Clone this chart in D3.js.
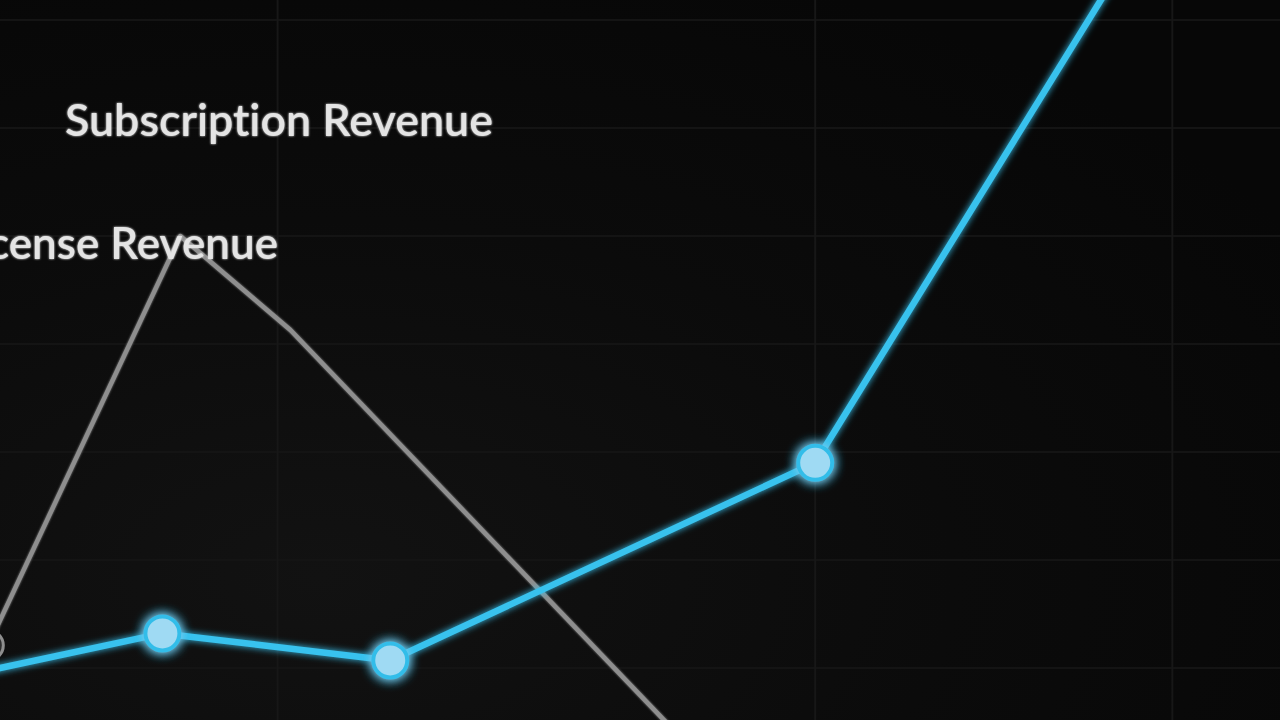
<!DOCTYPE html>
<html>
<head>
<meta charset="utf-8">
<script src="https://cdn.jsdelivr.net/npm/d3@7"></script>
<style>
html,body{margin:0;padding:0;background:#0b0b0b;overflow:hidden;}
svg{display:block;}
text{font-variant-ligatures:none;}
</style>
</head>
<body>
<svg id="chart" width="1280" height="720"></svg>
<script>
// ---- data (x in periods, y in revenue units) ----
const subscriptionX = [0.23, 2.05, 3.83, 7.15, 9.77];
const subscriptionY = [0.86, 1.32, 1.07, 2.90, 7.93];
const subscriptionMarked = [false, true, true, true, false];
const licenseX = [0.69, 2.19, 3.05, 6.25];
const licenseY = [1.21, 5.00, 4.13, 0.17];
const gridX = [2.95, 7.15, 9.94];
const gridY = [1, 2, 3, 4, 5, 6, 7];
const seriesLabels = ["Subscription Revenue", "License Revenue"];

const W = 1280, H = 720;
const svg = d3.select("#chart");
const x = d3.scaleLinear().domain([0, 10]).range([-100, 1180]);
const y = d3.scaleLinear().domain([0, 8]).range([776, -88]);

const defs = svg.append("defs");
const bg = defs.append("radialGradient").attr("id","bg").attr("cx","25%").attr("cy","80%").attr("r","90%");
bg.append("stop").attr("offset","0%").attr("stop-color","#121212");
bg.append("stop").attr("offset","55%").attr("stop-color","#0b0b0b");
bg.append("stop").attr("offset","100%").attr("stop-color","#070707");

const glow = defs.append("filter").attr("id","glow").attr("x","-50%").attr("y","-50%").attr("width","200%").attr("height","200%");
glow.append("feGaussianBlur").attr("stdDeviation",3.5).attr("result","b");
const m = glow.append("feMerge");
m.append("feMergeNode").attr("in","b");
m.append("feMergeNode").attr("in","SourceGraphic");

const glowBig = defs.append("filter").attr("id","glowBig").attr("x","-100%").attr("y","-100%").attr("width","300%").attr("height","300%");
glowBig.append("feGaussianBlur").attr("stdDeviation",6).attr("result","b");
const m2 = glowBig.append("feMerge");
m2.append("feMergeNode").attr("in","b");
m2.append("feMergeNode").attr("in","b");
m2.append("feMergeNode").attr("in","SourceGraphic");

const soft = defs.append("filter").attr("id","soft").attr("x","-10%").attr("y","-30%").attr("width","120%").attr("height","160%");
soft.append("feGaussianBlur").attr("stdDeviation",1.2).attr("result","b");
const m3 = soft.append("feMerge");
m3.append("feMergeNode").attr("in","b");
m3.append("feMergeNode").attr("in","SourceGraphic");

svg.append("rect").attr("width",W).attr("height",H).attr("fill","url(#bg)");

// grid
svg.append("g").selectAll("line").data(gridY).join("line")
  .attr("x1",0).attr("x2",W).attr("y1",d=>y(d)).attr("y2",d=>y(d))
  .attr("stroke","#141414").attr("stroke-width",2);
svg.append("g").selectAll("line").data(gridX).join("line")
  .attr("x1",d=>x(d)).attr("x2",d=>x(d)).attr("y1",0).attr("y2",H)
  .attr("stroke","#171717").attr("stroke-width",2);

const line = d3.line().x(d=>x(d[0])).y(d=>y(d[1]));

// license line (gray)
const licData = licenseX.map((v,i)=>[v, licenseY[i]]);
svg.append("path").datum(licData).attr("d", line)
  .attr("fill","none").attr("stroke","#8e8e8e").attr("stroke-width",4.5)
  .attr("stroke-linejoin","round").attr("filter","url(#soft)");
svg.append("circle").attr("cx",x(licenseX[0])).attr("cy",y(licenseY[0])).attr("r",15)
  .attr("fill","#2e2e2e").attr("stroke","#8e8e8e").attr("stroke-width",3);

// subscription line (blue)
const subData = subscriptionX.map((v,i)=>[v, subscriptionY[i]]);
svg.append("path").datum(subData).attr("d", line)
  .attr("fill","none").attr("stroke","#38c2ee").attr("stroke-width",6.5).attr("stroke-linejoin","round")
  .attr("filter","url(#glow)");
svg.append("g").selectAll("circle").data(subData.filter((d,i)=>subscriptionMarked[i])).join("circle")
  .attr("cx",d=>x(d[0])).attr("cy",d=>y(d[1])).attr("r",17)
  .attr("fill","#9fdaf3").attr("stroke","#33bde9").attr("stroke-width",4)
  .attr("filter","url(#glowBig)");

// labels
svg.append("text").attr("x",65).attr("y",136).text(seriesLabels[0])
  .attr("font-family","Lato, 'Open Sans', sans-serif").attr("font-size",44).attr("font-weight",600)
  .attr("textLength",428).attr("lengthAdjust","spacingAndGlyphs")
  .attr("fill","#e4e4e4").attr("filter","url(#soft)");
svg.append("text").attr("x",278).attr("y",259).attr("text-anchor","end").text(seriesLabels[1])
  .attr("font-family","Lato, 'Open Sans', sans-serif").attr("font-size",44).attr("font-weight",600)
  .attr("fill","#e4e4e4").attr("filter","url(#soft)");
</script>
</body>
</html>
